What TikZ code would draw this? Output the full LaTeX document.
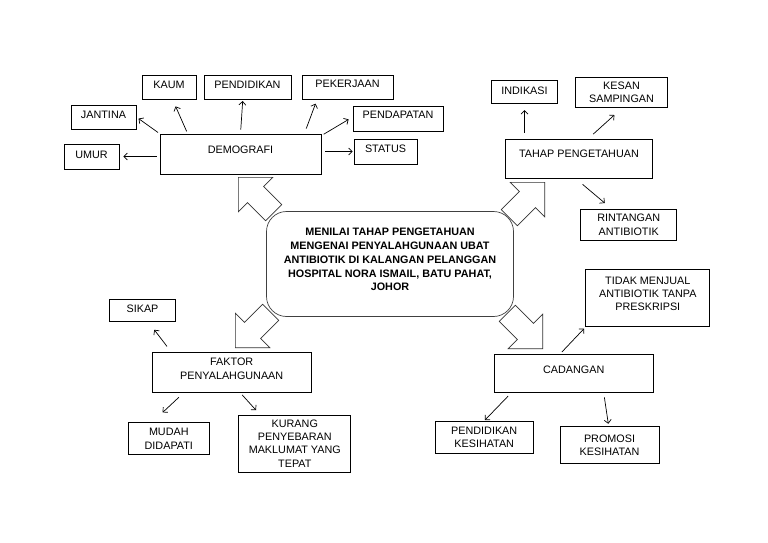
\documentclass[tikz,border=0pt]{standalone}
\usepackage{fontspec}
\setmainfont{Liberation Sans}
\usetikzlibrary{arrows.meta,shapes.arrows}

\begin{document}
\begin{tikzpicture}[
    x=1pt, y=-1pt,
    font=\fontsize{10.8}{13.3}\selectfont,
    box/.style={draw=black, line width=0.7pt, align=center, inner sep=0pt},
    lift/.style={text depth=#1},
    conn/.style={line width=0.7pt, -{Straight Barb[length=3.5pt,width=7pt]}},
    bigarrow/.style={single arrow, draw=black!80, line width=0.7pt, fill=white,
        single arrow tip angle=90, single arrow head extend=13pt,
        inner xsep=0pt, inner ysep=11pt, minimum height=50pt, anchor=tip}
]
    \path[use as bounding box, fill=white] (0,0) rectangle (768,543);

    \node[bigarrow, rotate=135] (toDemo) at (238,177) {};
    \node[bigarrow, rotate=45] (toTahap) at (545,182) {};
    \node[bigarrow, rotate=225] (toFaktor) at (235,348) {};
    \node[bigarrow, rotate=-45] (toCadangan) at (543,349) {};

    \node[box, lift=9pt, draw=black!75, rounded corners=20pt, fill=white,
        minimum width=247pt, minimum height=105pt,
        font=\fontsize{10.8}{13.75}\selectfont\bfseries] (title) at (390,264)
        {MENILAI TAHAP PENGETAHUAN\\ MENGENAI PENYALAHGUNAAN UBAT\\
         ANTIBIOTIK DI KALANGAN PELANGGAN\\ HOSPITAL NORA ISMAIL, BATU PAHAT,\\ JOHOR};

    \node[box, lift=9pt, minimum width=161pt, minimum height=40pt] (demo) at (240.5,154) {DEMOGRAFI};
    \node[box, lift=3pt, minimum width=55pt, minimum height=25pt] (umur) at (91.5,156.5) {UMUR};
    \node[box, lift=5pt, minimum width=65pt, minimum height=24pt] (jantina) at (103.5,117) {JANTINA};
    \node[box, lift=4pt, minimum width=54pt, minimum height=24pt] (kaum) at (169,87) {KAUM};
    \node[box, lift=4pt, minimum width=87pt, minimum height=24pt] (pendidikan) at (247.5,87) {PENDIDIKAN};
    \node[box, lift=6pt, minimum width=91pt, minimum height=24pt] (pekerjaan) at (347.5,87) {PEKERJAAN};
    \node[box, lift=7pt, minimum width=90pt, minimum height=25pt] (pendapatan) at (398,118.5) {PENDAPATAN};
    \node[box, lift=6pt, minimum width=63pt, minimum height=25pt] (status) at (385.5,151.5) {STATUS};

    \node[box, lift=9pt, minimum width=147pt, minimum height=39pt] (tahap) at (579,158.7) {TAHAP PENGETAHUAN};
    \node[box, lift=3pt, minimum width=66pt, minimum height=23pt] (indikasi) at (524.5,92.3) {INDIKASI};
    \node[box, minimum width=92pt, minimum height=30pt] (kesan) at (621.5,92.3) {KESAN\\ SAMPINGAN};
    \node[box, minimum width=96pt, minimum height=31pt] (rintangan) at (628.7,224.7) {RINTANGAN\\ ANTIBIOTIK};

    \node[box, lift=7pt, minimum width=159pt, minimum height=40pt] (faktor) at (231.7,372.3) {FAKTOR\\ PENYALAHGUNAAN};
    \node[box, lift=5pt, minimum width=66pt, minimum height=22pt] (sikap) at (142.5,310.8) {SIKAP};
    \node[box, minimum width=81pt, minimum height=32pt] (mudah) at (168.8,438.8) {MUDAH\\ DIDAPATI};
    \node[box, minimum width=112pt, minimum height=57pt] (kurang) at (294.8,443.4)
        {KURANG\\ PENYEBARAN\\ MAKLUMAT YANG\\ TEPAT};

    \node[box, lift=8pt, minimum width=159pt, minimum height=38pt] (cadangan) at (573.7,373.5) {CADANGAN};
    \node[box, lift=9pt, minimum width=124pt, minimum height=57pt] (tidak) at (647.8,298.3)
        {TIDAK MENJUAL\\ ANTIBIOTIK TANPA\\ PRESKRIPSI};
    \node[box, minimum width=98pt, minimum height=32pt] (pkes) at (484.2,437.2) {PENDIDIKAN\\ KESIHATAN};
    \node[box, minimum width=99pt, minimum height=37pt] (promosi) at (609.5,445.3) {PROMOSI\\ KESIHATAN};

    % demografi
    \draw[conn, shorten <=3pt, shorten >=4pt] (demo.west |- umur) -- (umur.east);
    \draw[conn, shorten <=2pt, shorten >=2.7pt] (demo.north west) -- (jantina.east);
    \draw[conn, shorten <=2.5pt, shorten >=7.7pt] ([xshift=28pt]demo.north west) -- ([xshift=3.5pt]kaum.south);
    \draw[conn, shorten <=4pt, shorten >=1.7pt] (demo.north) -- ([xshift=-4.7pt]pendidikan.south);
    \draw[conn, shorten <=5.4pt, shorten >=4.6pt] ([xshift=-17pt]demo.north east) -- ([xshift=15.5pt]pekerjaan.south west);
    \draw[conn, shorten <=2.7pt, shorten >=4.7pt] ([yshift=-2pt]demo.north east) -- ([yshift=1.5pt]pendapatan.west);
    \draw[conn, shorten <=4pt, shorten >=1pt] (demo.east |- status) -- (status.west);

    % tahap pengetahuan
    \draw[conn, shorten <=6pt, shorten >=6pt] (indikasi.south |- tahap.north) -- (indikasi.south);
    \draw[conn, shorten <=7pt, shorten >=11pt] ([xshift=9pt]tahap.north) -- ([xshift=1pt]kesan.south);
    \draw[conn, shorten <=9pt, shorten >=9pt] ([xshift=-3.3pt]tahap.south) -- ([xshift=31.3pt]rintangan.north west);

    % faktor
    \draw[conn, shorten <=7pt, shorten >=9.6pt] ([xshift=19.4pt]faktor.north west) -- ([xshift=5.9pt]sikap.south);
    \draw[conn, shorten <=6.8pt, shorten >=14.7pt] ([xshift=32pt]faktor.south west) -- ([xshift=-16.9pt]mudah.north);
    \draw[conn, shorten <=3pt, shorten >=5.8pt] ([xshift=88.3pt]faktor.south west) -- ([xshift=21.5pt]kurang.north west);

    % cadangan
    \draw[conn, shorten <=3pt, shorten >=2pt] ([xshift=66pt]cadangan.north west) -- (tidak.south west);
    \draw[conn, shorten <=4.5pt, shorten >=1pt] ([xshift=17.4pt]cadangan.south west) -- (pkes.north);
    \draw[conn, shorten <=4.6pt, shorten >=2.7pt] ([xshift=30pt]cadangan.south) -- ([xshift=-0.8pt]promosi.north);
\end{tikzpicture}
\end{document}
